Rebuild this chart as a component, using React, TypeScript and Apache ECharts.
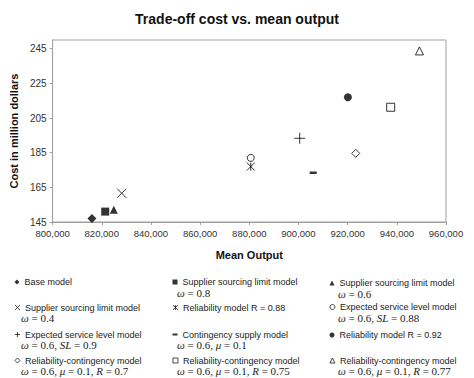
import React, { useEffect, useRef } from "react";
import * as echarts from "echarts";

// ---- data ----
const seriesNames = [
  "Base model",
  "Supplier sourcing limit model ω = 0.8",
  "Supplier sourcing limit model ω = 0.6",
  "Supplier sourcing limit model ω = 0.4",
  "Reliability model R = 0.88",
  "Expected service level model ω = 0.6, SL = 0.88",
  "Expected service level model ω = 0.6, SL = 0.9",
  "Contingency supply model ω = 0.6, μ = 0.1",
  "Reliability model R = 0.92",
  "Reliability-contingency model ω = 0.6, μ = 0.1, R = 0.7",
  "Reliability-contingency model ω = 0.6, μ = 0.1, R = 0.75",
  "Reliability-contingency model ω = 0.6, μ = 0.1, R = 0.77",
];
const legendLines = [
  "Base model",
  "Supplier sourcing limit model",
  "Supplier sourcing limit model",
  "Supplier sourcing limit model",
  "Reliability model R = 0.88",
  "Expected service level model",
  "Expected service level model",
  "Contingency supply model",
  "Reliability model R = 0.92",
  "Reliability-contingency model",
  "Reliability-contingency model",
  "Reliability-contingency model",
];
const subLines = [
  "",
  "{i|ω} = 0.8",
  "{i|ω} = 0.6",
  "{i|ω} = 0.4",
  "",
  "{i|ω} = 0.6, {i|SL} = 0.88",
  "{i|ω} = 0.6, {i|SL} = 0.9",
  "{i|ω} = 0.6, {i|μ} = 0.1",
  "",
  "{i|ω} = 0.6, {i|μ} = 0.1, {i|R} = 0.7",
  "{i|ω} = 0.6, {i|μ} = 0.1, {i|R} = 0.75",
  "{i|ω} = 0.6, {i|μ} = 0.1, {i|R} = 0.77",
];
const meanOutput = [816000, 821400, 824900, 828100, 880600, 880600, 900500, 906000, 920100, 923300, 937500, 949200];
const costMillions = [147, 151, 152, 161.6, 177, 182, 193.3, 173.4, 217, 184.6, 211.2, 243.7];
const yTicks = [145, 165, 185, 205, 225, 245];

// ---- styles ----
const X_PATH = "path://M0,0 L10,10 M0,10 L10,0";
const PLUS_PATH = "path://M5,0 L5,10 M0,5 L10,5";
const STAR_PATH = "path://M0,0 L10,10 M0,10 L10,0 M5,0 L5,10";

const filled = { color: "#000" };
const open = { color: "#fff", borderColor: "#000", borderWidth: 1 };
const stroke = { color: "rgba(0,0,0,0)", borderColor: "#000", borderWidth: 1 };
const legendFilled = { color: "#000", borderWidth: 0 };
const legendOpen = { color: "#fff", borderColor: "#000", borderWidth: 0.9 };
const legendStroke = { color: "rgba(0,0,0,0)", borderColor: "#000", borderWidth: 0.9 };

const markerStyles: any[] = [
  { symbol: "diamond", symbolSize: 9, itemStyle: filled, legend: legendFilled },
  { symbol: "rect", symbolSize: 8, itemStyle: filled, legend: legendFilled },
  { symbol: "triangle", symbolSize: 8, itemStyle: filled, legend: legendFilled },
  { symbol: X_PATH, symbolSize: 9, itemStyle: stroke, legend: legendStroke },
  { symbol: STAR_PATH, symbolSize: 8, itemStyle: stroke, legend: legendStroke },
  { symbol: "circle", symbolSize: 7, itemStyle: open, legend: legendOpen },
  { symbol: PLUS_PATH, symbolSize: 11, itemStyle: stroke, legend: legendStroke },
  { symbol: "rect", symbolSize: [7, 2.5], itemStyle: filled, legend: legendFilled },
  { symbol: "circle", symbolSize: 8, itemStyle: filled, legend: legendFilled },
  { symbol: "diamond", symbolSize: 8, itemStyle: open, legend: legendOpen },
  { symbol: "rect", symbolSize: 8, itemStyle: open, legend: legendOpen },
  { symbol: "triangle", symbolSize: 8, itemStyle: open, legend: legendOpen },
];

// legend layout: [iconCenterX, rowCenterY, subX]
const legendPos: number[][] = [
  [17, 282, 0],
  [175, 282, 177],
  [332, 283, 338],
  [17, 307.5, 21],
  [175, 307.5, 0],
  [332, 307, 338],
  [17, 334.5, 21],
  [175, 334.5, 177],
  [332, 335, 0],
  [17, 360.5, 21],
  [175, 360.5, 177],
  [332, 360.5, 338],
];

export default function App() {
  const ref = useRef<HTMLDivElement>(null);
  useEffect(() => {
    if (!ref.current) return;
    const chart = echarts.init(ref.current, null, { renderer: "svg" });
    const font = "Liberation Sans";
    const legends = seriesNames.map((name, i) => {
      const [cx, cy] = legendPos[i];
      const isDash = i === 7;
      const iw = 5;
      const ih = isDash ? 2 : 5;
      return {
        data: [name],
        left: cx - iw / 2,
        top: cy - 5,
        padding: 0,
        itemWidth: iw,
        itemHeight: ih,
        selectedMode: false,
        itemStyle: markerStyles[i].legend,
        formatter: () => legendLines[i],
        textStyle: { fontFamily: font, fontSize: 9, color: "#222", lineHeight: 10 },
      };
    });
    const graphics = subLines
      .map((t, i) => {
        if (!t) return null;
        const [, cy, sx] = legendPos[i];
        return {
          type: "text",
          x: sx,
          y: cy + 10.5,
          style: {
            text: t,
            fill: "#222",
            fontFamily: "Liberation Serif",
            fontSize: 11,
            lineHeight: 11,
            verticalAlign: "middle",
            align: "left",
            rich: {
              i: { fontStyle: "italic", fontFamily: "Liberation Serif", fontSize: 11, lineHeight: 11, fill: "#222" },
            },
          },
        };
      })
      .filter(Boolean);

    chart.setOption({
      animation: false,
      backgroundColor: "#fff",
      title: {
        text: "Trade-off cost vs. mean output",
        left: "center",
        top: 12,
        padding: 0,
        textStyle: { fontFamily: font, fontSize: 14, fontWeight: "bold", color: "#111" },
      },
      grid: {
        left: 40,
        right: 28,
        top: 40,
        bottom: 156,
        show: true,
        borderColor: "#a0a0a0",
        borderWidth: 1,
        backgroundColor: "#fff",
      },
      xAxis: {
        type: "value",
        min: 800000,
        max: 960000,
        interval: 20000,
        name: "Mean Output",
        nameLocation: "middle",
        nameGap: 27,
        nameTextStyle: { fontFamily: font, fontSize: 11, fontWeight: "bold", color: "#111" },
        axisLine: { show: true, lineStyle: { color: "#a0a0a0" } },
        axisTick: { show: true, length: 3, lineStyle: { color: "#a0a0a0" } },
        axisLabel: {
          fontFamily: font,
          fontSize: 9.5,
          color: "#333",
          margin: 6,
          formatter: (v: number) => v.toLocaleString("en-US"),
        },
        splitLine: { show: false },
      },
      yAxis: {
        type: "value",
        min: 145,
        max: 250,
        interval: 20,
        name: "Cost in million dollars",
        nameLocation: "middle",
        nameGap: 29,
        nameTextStyle: { fontFamily: font, fontSize: 11, fontWeight: "bold", color: "#111" },
        axisLine: { show: true, lineStyle: { color: "#a0a0a0" } },
        axisTick: { show: true, length: 3, customValues: yTicks, lineStyle: { color: "#a0a0a0" } },
        axisLabel: { fontFamily: font, fontSize: 10, color: "#333", margin: 6, customValues: yTicks },
        splitLine: { show: false },
      },
      legend: legends,
      graphic: graphics,
      series: seriesNames.map((name, i) => ({
        type: "scatter",
        name,
        data: [[meanOutput[i], costMillions[i]]],
        symbol: markerStyles[i].symbol,
        symbolSize: markerStyles[i].symbolSize,
        itemStyle: markerStyles[i].itemStyle,
        emphasis: { disabled: true },
      })),
    });
    return () => chart.dispose();
  }, []);
  return <div ref={ref} style={{ width: 474, height: 378, position: "absolute", left: 0, top: 0 }} />;
}
